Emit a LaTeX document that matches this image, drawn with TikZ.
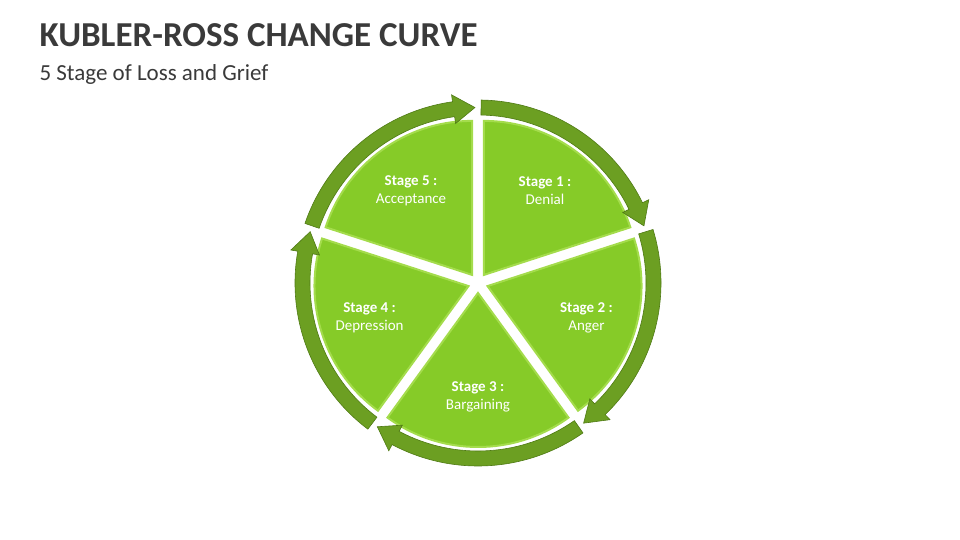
\documentclass[tikz,border=0pt]{standalone}
\usepackage{fontspec}
\setmainfont{Carlito}
\usetikzlibrary{calc}
\definecolor{secg}{HTML}{86CB28}
\definecolor{secd}{HTML}{A4DC4C}
\definecolor{ringg}{HTML}{6C9F22}
\definecolor{ringd}{HTML}{4F7A14}
\definecolor{titlec}{HTML}{3A3A3A}
\begin{document}
\begin{tikzpicture}[x=1pt,y=1pt,
  sector/.style={fill=secg,draw=secd,line width=2pt},
  ringarc/.style={fill=ringg,draw=ringd,line width=0.6pt},
  lbl/.style={text=white,align=center,font=\fontsize{15}{18}\selectfont}]
\useasboundingbox (0,0) rectangle (960,540);
\node[anchor=west,text=titlec,font=\fontsize{35}{38}\selectfont\bfseries] (title) at (36,505) {KUBLER-ROSS CHANGE CURVE};
\node[anchor=west,text=titlec,font=\fontsize{23}{26}\selectfont] (sub) at (36,466) {5 Stage of Loss and Grief};
\coordinate (c) at (478,257);
\foreach \k/\top/\bot in {1/Stage 1 :/Denial,2/Stage 2 :/Anger,3/Stage 3 :/Bargaining,4/Stage 4 :/Depression,5/Stage 5 :/Acceptance}{
  \pgfmathsetmacro{\b}{54-72*(\k-1)}
  \coordinate (o\k) at ($(c)+(\b:10)$);
  \draw[sector] (o\k) -- ++(\b+36:154) arc[start angle=\b+36,end angle=\b-36,radius=154] -- cycle;
  \node[lbl] (s\k) at ($(o\k)+(\b:104)$) {\textbf{\top}\\\bot};
  \pgfmathsetmacro{\aa}{\b+35}
  \pgfmathsetmacro{\ab}{\b-28}
  \pgfmathsetmacro{\ac}{\b-35}
  \draw[ringarc] ($(c)+(\aa:183)$) arc[start angle=\aa,end angle=\ab,radius=183]
     -- ($(c)+(\ab:190)$) -- ($(c)+(\ac:175.5)$) -- ($(c)+(\ab:161)$) -- ($(c)+(\ab:168)$)
     arc[start angle=\ab,end angle=\aa,radius=168] -- cycle;
}
\end{tikzpicture}
\end{document}
